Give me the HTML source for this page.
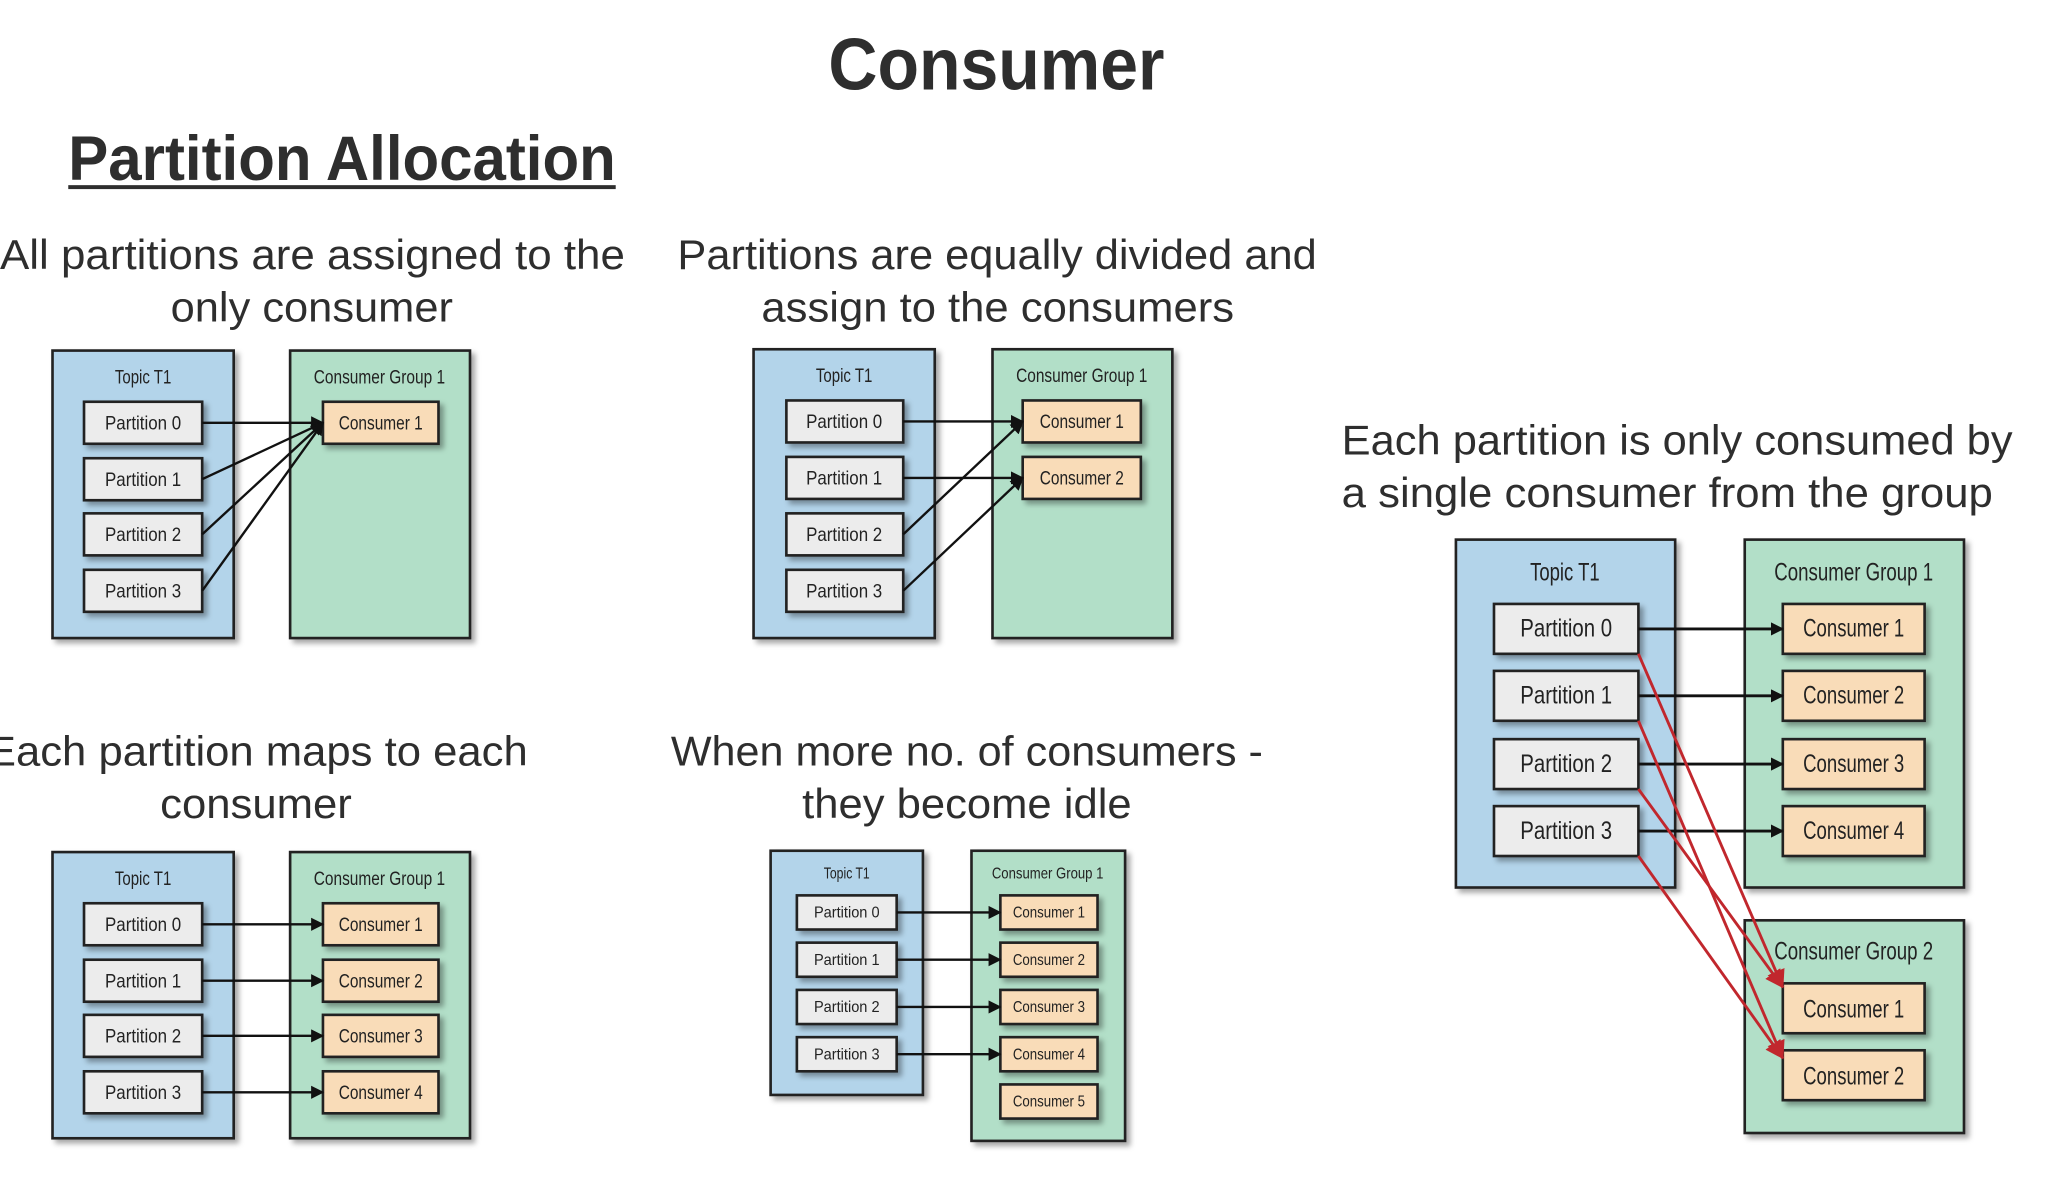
<!DOCTYPE html>
<html><head><meta charset="utf-8"><style>
html,body{margin:0;padding:0;background:#fff;}
svg{display:block;}
.cap{font-family:"Liberation Sans",sans-serif;font-size:32px;fill:#2e2e2e;}
.lb{font-family:"Liberation Sans Narrow","Liberation Sans",sans-serif;fill:#222;text-anchor:middle;}
</style></head><body>
<svg width="2048" height="1179" viewBox="0 0 1560 898" xmlns="http://www.w3.org/2000/svg">
<defs>
<filter id="sh" x="-20%" y="-20%" width="150%" height="150%"><feDropShadow dx="3" dy="3" stdDeviation="2" flood-color="#000" flood-opacity="0.35"/></filter>
<marker id="ab" markerWidth="10" markerHeight="10" refX="9" refY="5" orient="auto" markerUnits="userSpaceOnUse"><path d="M0,0 L10,5 L0,10 z" fill="#111"/></marker>
<marker id="ar" markerWidth="14" markerHeight="14" refX="13" refY="7" orient="auto" markerUnits="userSpaceOnUse"><path d="M0,0 L14,7 L0,14 z" fill="#c1272d"/></marker>
</defs>
<rect width="1560" height="898" fill="#fff"/>
<text x="759" y="68" text-anchor="middle" font-family="Liberation Sans,sans-serif" font-weight="bold" font-size="56" fill="#2e2e2e" textLength="256" lengthAdjust="spacingAndGlyphs">Consumer</text>
<text x="52" y="137" font-family="Liberation Sans,sans-serif" font-weight="bold" font-size="48" fill="#2e2e2e" textLength="417" lengthAdjust="spacingAndGlyphs">Partition Allocation</text>
<rect x="52" y="141" width="417" height="3" fill="#2e2e2e"/>

<text class="cap" x="0" y="205" textLength="476" lengthAdjust="spacingAndGlyphs">All partitions are assigned to the</text>
<text class="cap" x="130" y="245" textLength="215" lengthAdjust="spacingAndGlyphs">only consumer</text>
<text class="cap" x="516" y="205" textLength="487" lengthAdjust="spacingAndGlyphs">Partitions are equally divided and</text>
<text class="cap" x="580" y="245" textLength="360" lengthAdjust="spacingAndGlyphs">assign to the consumers</text>
<text class="cap" x="1022" y="346" textLength="511" lengthAdjust="spacingAndGlyphs">Each partition is only consumed by</text>
<text class="cap" x="1022" y="386" textLength="496" lengthAdjust="spacingAndGlyphs">a single consumer from the group</text>
<text class="cap" x="-10" y="583" textLength="412" lengthAdjust="spacingAndGlyphs">Each partition maps to each</text>
<text class="cap" x="122" y="623" textLength="146" lengthAdjust="spacingAndGlyphs">consumer</text>
<text class="cap" x="511" y="583" textLength="451" lengthAdjust="spacingAndGlyphs">When more no. of consumers -</text>
<text class="cap" x="611" y="623" textLength="251" lengthAdjust="spacingAndGlyphs">they become idle</text>

<g stroke="#222" stroke-width="2">
<rect x="40" y="267" width="138" height="219" fill="#b3d4ea" filter="url(#sh)"/>
<rect x="221" y="267" width="137" height="219" fill="#b2dfc8" filter="url(#sh)"/>
<rect x="64" y="306" width="90" height="32" fill="#ececec" filter="url(#sh)"/>
<rect x="64" y="349" width="90" height="32" fill="#ececec" filter="url(#sh)"/>
<rect x="64" y="391" width="90" height="32" fill="#ececec" filter="url(#sh)"/>
<rect x="64" y="434" width="90" height="32" fill="#ececec" filter="url(#sh)"/>
<rect x="246" y="306" width="88" height="32" fill="#f9dcb8" filter="url(#sh)"/>
<rect x="574" y="266" width="138" height="220" fill="#b3d4ea" filter="url(#sh)"/>
<rect x="756" y="266" width="137" height="220" fill="#b2dfc8" filter="url(#sh)"/>
<rect x="599" y="305" width="89" height="32" fill="#ececec" filter="url(#sh)"/>
<rect x="599" y="348" width="89" height="32" fill="#ececec" filter="url(#sh)"/>
<rect x="599" y="391" width="89" height="32" fill="#ececec" filter="url(#sh)"/>
<rect x="599" y="434" width="89" height="32" fill="#ececec" filter="url(#sh)"/>
<rect x="779" y="305" width="90" height="32" fill="#f9dcb8" filter="url(#sh)"/>
<rect x="779" y="348" width="90" height="32" fill="#f9dcb8" filter="url(#sh)"/>
<rect x="40" y="649" width="138" height="218" fill="#b3d4ea" filter="url(#sh)"/>
<rect x="221" y="649" width="137" height="218" fill="#b2dfc8" filter="url(#sh)"/>
<rect x="64" y="688" width="90" height="32" fill="#ececec" filter="url(#sh)"/>
<rect x="64" y="731" width="90" height="32" fill="#ececec" filter="url(#sh)"/>
<rect x="64" y="773" width="90" height="32" fill="#ececec" filter="url(#sh)"/>
<rect x="64" y="816" width="90" height="32" fill="#ececec" filter="url(#sh)"/>
<rect x="246" y="688" width="88" height="32" fill="#f9dcb8" filter="url(#sh)"/>
<rect x="246" y="731" width="88" height="32" fill="#f9dcb8" filter="url(#sh)"/>
<rect x="246" y="773" width="88" height="32" fill="#f9dcb8" filter="url(#sh)"/>
<rect x="246" y="816" width="88" height="32" fill="#f9dcb8" filter="url(#sh)"/>
<rect x="587" y="648" width="116" height="186" fill="#b3d4ea" filter="url(#sh)"/>
<rect x="740" y="648" width="117" height="221" fill="#b2dfc8" filter="url(#sh)"/>
<rect x="607" y="682" width="76" height="26" fill="#ececec" filter="url(#sh)"/>
<rect x="607" y="718" width="76" height="26" fill="#ececec" filter="url(#sh)"/>
<rect x="607" y="754" width="76" height="26" fill="#ececec" filter="url(#sh)"/>
<rect x="607" y="790" width="76" height="26" fill="#ececec" filter="url(#sh)"/>
<rect x="762" y="682" width="74" height="26" fill="#f9dcb8" filter="url(#sh)"/>
<rect x="762" y="718" width="74" height="26" fill="#f9dcb8" filter="url(#sh)"/>
<rect x="762" y="754" width="74" height="26" fill="#f9dcb8" filter="url(#sh)"/>
<rect x="762" y="790" width="74" height="26" fill="#f9dcb8" filter="url(#sh)"/>
<rect x="762" y="826" width="74" height="26" fill="#f9dcb8" filter="url(#sh)"/>
<rect x="1109" y="411" width="167" height="265" fill="#b3d4ea" filter="url(#sh)"/>
<rect x="1329" y="411" width="167" height="265" fill="#b2dfc8" filter="url(#sh)"/>
<rect x="1329" y="701" width="167" height="162" fill="#b2dfc8" filter="url(#sh)"/>
<rect x="1138" y="460" width="110" height="38" fill="#ececec" filter="url(#sh)"/>
<rect x="1138" y="511" width="110" height="38" fill="#ececec" filter="url(#sh)"/>
<rect x="1138" y="563" width="110" height="38" fill="#ececec" filter="url(#sh)"/>
<rect x="1138" y="614" width="110" height="38" fill="#ececec" filter="url(#sh)"/>
<rect x="1358" y="460" width="108" height="38" fill="#f9dcb8" filter="url(#sh)"/>
<rect x="1358" y="511" width="108" height="38" fill="#f9dcb8" filter="url(#sh)"/>
<rect x="1358" y="563" width="108" height="38" fill="#f9dcb8" filter="url(#sh)"/>
<rect x="1358" y="614" width="108" height="38" fill="#f9dcb8" filter="url(#sh)"/>
<rect x="1358" y="749" width="108" height="38" fill="#f9dcb8" filter="url(#sh)"/>
<rect x="1358" y="800" width="108" height="38" fill="#f9dcb8" filter="url(#sh)"/>
</g>

<g stroke="#111" stroke-width="1.8" fill="none" marker-end="url(#ab)">
<line x1="154" y1="322" x2="246" y2="322"/>
<line x1="154" y1="365" x2="246" y2="322"/>
<line x1="154" y1="407" x2="246" y2="322"/>
<line x1="154" y1="450" x2="246" y2="322"/>
<line x1="688" y1="321" x2="779" y2="321"/>
<line x1="688" y1="364" x2="779" y2="364"/>
<line x1="688" y1="407" x2="779" y2="321"/>
<line x1="688" y1="450" x2="779" y2="364"/>
<line x1="154" y1="704" x2="246" y2="704"/>
<line x1="154" y1="747" x2="246" y2="747"/>
<line x1="154" y1="789" x2="246" y2="789"/>
<line x1="154" y1="832" x2="246" y2="832"/>
<line x1="683" y1="695" x2="762" y2="695"/>
<line x1="683" y1="731" x2="762" y2="731"/>
<line x1="683" y1="767" x2="762" y2="767"/>
<line x1="683" y1="803" x2="762" y2="803"/>
</g>
<g stroke="#111" stroke-width="2.2" fill="none">
<path d="M1248 479 H1358" marker-end="url(#ab)"/>
<path d="M1248 530 H1358" marker-end="url(#ab)"/>
<path d="M1248 582 H1358" marker-end="url(#ab)"/>
<path d="M1248 633 H1358" marker-end="url(#ab)"/>
</g>
<g stroke="#c1272d" stroke-width="2.2" fill="none" marker-end="url(#ar)">
<line x1="1248" y1="498" x2="1358" y2="752"/>
<line x1="1248" y1="549" x2="1358" y2="806"/>
<line x1="1248" y1="601" x2="1358" y2="752"/>
<line x1="1248" y1="652" x2="1358" y2="806"/>
</g>

<g class="lb" font-size="15" lengthAdjust="spacingAndGlyphs">
<text x="109" y="292" textLength="43" lengthAdjust="spacingAndGlyphs">Topic T1</text><text x="289" y="292" textLength="100" lengthAdjust="spacingAndGlyphs">Consumer Group 1</text>
<text x="109" y="327" textLength="58" lengthAdjust="spacingAndGlyphs">Partition 0</text><text x="109" y="370" textLength="58" lengthAdjust="spacingAndGlyphs">Partition 1</text><text x="109" y="412" textLength="58" lengthAdjust="spacingAndGlyphs">Partition 2</text><text x="109" y="455" textLength="58" lengthAdjust="spacingAndGlyphs">Partition 3</text>
<text x="290" y="327" textLength="64" lengthAdjust="spacingAndGlyphs">Consumer 1</text>
<text x="643" y="291" textLength="43" lengthAdjust="spacingAndGlyphs">Topic T1</text><text x="824" y="291" textLength="100" lengthAdjust="spacingAndGlyphs">Consumer Group 1</text>
<text x="643" y="326" textLength="58" lengthAdjust="spacingAndGlyphs">Partition 0</text><text x="643" y="369" textLength="58" lengthAdjust="spacingAndGlyphs">Partition 1</text><text x="643" y="412" textLength="58" lengthAdjust="spacingAndGlyphs">Partition 2</text><text x="643" y="455" textLength="58" lengthAdjust="spacingAndGlyphs">Partition 3</text>
<text x="824" y="326" textLength="64" lengthAdjust="spacingAndGlyphs">Consumer 1</text><text x="824" y="369" textLength="64" lengthAdjust="spacingAndGlyphs">Consumer 2</text>
<text x="109" y="674" textLength="43" lengthAdjust="spacingAndGlyphs">Topic T1</text><text x="289" y="674" textLength="100" lengthAdjust="spacingAndGlyphs">Consumer Group 1</text>
<text x="109" y="709" textLength="58" lengthAdjust="spacingAndGlyphs">Partition 0</text><text x="109" y="752" textLength="58" lengthAdjust="spacingAndGlyphs">Partition 1</text><text x="109" y="794" textLength="58" lengthAdjust="spacingAndGlyphs">Partition 2</text><text x="109" y="837" textLength="58" lengthAdjust="spacingAndGlyphs">Partition 3</text>
<text x="290" y="709" textLength="64" lengthAdjust="spacingAndGlyphs">Consumer 1</text><text x="290" y="752" textLength="64" lengthAdjust="spacingAndGlyphs">Consumer 2</text><text x="290" y="794" textLength="64" lengthAdjust="spacingAndGlyphs">Consumer 3</text><text x="290" y="837" textLength="64" lengthAdjust="spacingAndGlyphs">Consumer 4</text>
</g>
<g class="lb" font-size="12">
<text x="645" y="669" textLength="35" lengthAdjust="spacingAndGlyphs">Topic T1</text><text x="798" y="669" textLength="85" lengthAdjust="spacingAndGlyphs">Consumer Group 1</text>
<text x="645" y="699" textLength="50" lengthAdjust="spacingAndGlyphs">Partition 0</text><text x="645" y="735" textLength="50" lengthAdjust="spacingAndGlyphs">Partition 1</text><text x="645" y="771" textLength="50" lengthAdjust="spacingAndGlyphs">Partition 2</text><text x="645" y="807" textLength="50" lengthAdjust="spacingAndGlyphs">Partition 3</text>
<text x="799" y="699" textLength="55" lengthAdjust="spacingAndGlyphs">Consumer 1</text><text x="799" y="735" textLength="55" lengthAdjust="spacingAndGlyphs">Consumer 2</text><text x="799" y="771" textLength="55" lengthAdjust="spacingAndGlyphs">Consumer 3</text><text x="799" y="807" textLength="55" lengthAdjust="spacingAndGlyphs">Consumer 4</text><text x="799" y="843" textLength="55" lengthAdjust="spacingAndGlyphs">Consumer 5</text>
</g>
<g class="lb" font-size="19">
<text x="1192" y="442" textLength="53" lengthAdjust="spacingAndGlyphs">Topic T1</text><text x="1412" y="442" textLength="121" lengthAdjust="spacingAndGlyphs">Consumer Group 1</text>
<text x="1193" y="485" textLength="70" lengthAdjust="spacingAndGlyphs">Partition 0</text><text x="1193" y="536" textLength="70" lengthAdjust="spacingAndGlyphs">Partition 1</text><text x="1193" y="588" textLength="70" lengthAdjust="spacingAndGlyphs">Partition 2</text><text x="1193" y="639" textLength="70" lengthAdjust="spacingAndGlyphs">Partition 3</text>
<text x="1412" y="485" textLength="77" lengthAdjust="spacingAndGlyphs">Consumer 1</text><text x="1412" y="536" textLength="77" lengthAdjust="spacingAndGlyphs">Consumer 2</text><text x="1412" y="588" textLength="77" lengthAdjust="spacingAndGlyphs">Consumer 3</text><text x="1412" y="639" textLength="77" lengthAdjust="spacingAndGlyphs">Consumer 4</text>
<text x="1412" y="731" textLength="121" lengthAdjust="spacingAndGlyphs">Consumer Group 2</text>
<text x="1412" y="775" textLength="77" lengthAdjust="spacingAndGlyphs">Consumer 1</text><text x="1412" y="826" textLength="77" lengthAdjust="spacingAndGlyphs">Consumer 2</text>
</g>
</svg>
</body></html>
